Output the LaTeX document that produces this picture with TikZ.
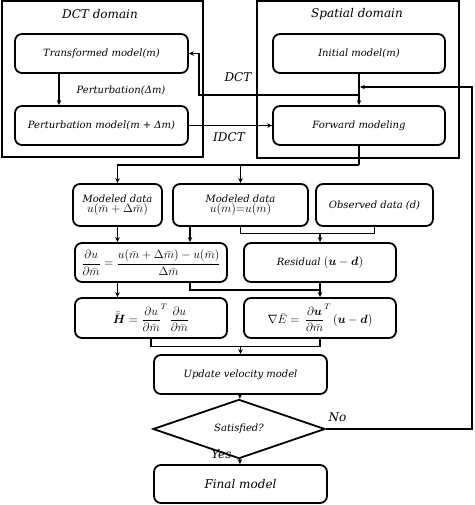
\documentclass[tikz,border=0pt]{standalone}
\usepackage{amsmath,amssymb}
\usepackage{fontspec}
\setmainfont{DejaVu Serif}
\usetikzlibrary{shapes.geometric,arrows.meta}
\newcommand\mymath[1]{{\fontsize{11.5}{13}\selectfont$#1$}}
\begin{document}
\begin{tikzpicture}[x=1pt,y=-1pt,
  box/.style={draw,line width=1.8pt,rounded corners=7pt,align=center,inner sep=1pt,font=\fontsize{10}{12}\selectfont\itshape},
  mbox/.style={box,font=\fontsize{11.5}{13}\selectfont},
  dom/.style={draw,line width=2pt},
  conn/.style={line width=1.6pt},
  arr/.style={conn,-{Stealth[length=5pt,width=4.5pt]}},
  lbl/.style={font=\fontsize{10}{12}\selectfont\itshape},
  big/.style={font=\fontsize{12}{14}\selectfont\itshape}]
\useasboundingbox (0,0) rectangle (474,505);
% domain boxes
\draw[dom] (2,1) rectangle (203,157);
\draw[dom] (257,1) rectangle (459,158);
\node[big] (tdct) at (100,14) {DCT domain};
\node[big] (tsp) at (357,14) {Spatial domain};
% nodes
\node[box,minimum width=173pt,minimum height=39pt] (trans) at (101.5,53.5) {Transformed model(m)};
\node[box,minimum width=173pt,minimum height=39pt] (pert) at (101.5,125.5) {Perturbation model(m + Δm)};
\node[box,minimum width=172pt,minimum height=39pt] (init) at (359,53.5) {Initial model(m)};
\node[box,minimum width=172pt,minimum height=39pt] (fwd) at (359,125.5) {Forward modeling};
\node[box,minimum width=89pt,minimum height=42pt] (md1) at (117.5,205) {Modeled data\\[-2pt]\mymath{u(\bar{m}+\Delta\bar{m})}};
\node[box,minimum width=135pt,minimum height=42pt] (md2) at (240.5,205) {Modeled data\\[-2pt]\mymath{u(m){=}u(m)}};
\node[box,minimum width=117pt,minimum height=42pt] (obs) at (374.5,205) {Observed data (d)};
\node[mbox,minimum width=152pt,minimum height=39pt] (deriv) at (151,262.5) {$\dfrac{\partial u}{\partial\bar{m}}=\dfrac{u(\bar{m}+\Delta\bar{m})-u(\bar{m})}{\Delta\bar{m}}$};
\node[box,minimum width=152pt,minimum height=39pt] (res) at (320,262.5) {Residual \mymath{(\boldsymbol{u}-\boldsymbol{d})}};
\node[mbox,minimum width=152pt,minimum height=40pt] (H) at (151,318) {$\bar{\bar{\boldsymbol{H}}}=\dfrac{\partial u}{\partial\bar{m}}^{T}\,\dfrac{\partial u}{\partial\bar{m}}$};
\node[mbox,minimum width=152pt,minimum height=40pt] (grad) at (320,318) {$\nabla\bar{E}=\,\dfrac{\partial \boldsymbol{u}}{\partial\bar{m}}^{T}\,(\boldsymbol{u}-\boldsymbol{d})$};
\node[box,minimum width=173pt,minimum height=39pt] (upd) at (240.5,374.5) {Update velocity model};
\node[draw,diamond,line width=1.8pt,minimum width=172pt,minimum height=36pt,inner sep=0pt,font=\fontsize{10}{12}\selectfont\itshape] (sat) at (239,429) {Satisfied?};
\node[box,minimum width=173pt,minimum height=38pt,font=\fontsize{12}{14}\selectfont\itshape] (final) at (240.5,484) {Final model};
% labels
\node[lbl] (lpert) at (121,90) {Perturbation(Δm)};
\node[big] (ldct) at (238,77) {DCT};
\node[big] (lidct) at (229,137) {IDCT};
\node[big,anchor=west] (lno) at (325,417) {No};
\node[big,anchor=east] (lyes) at (235,454) {Yes};
% routing coordinates
\coordinate (x59) at (59,0);
\coordinate (dctj) at (359,95);
\coordinate (dctc) at (199,95);
\coordinate (fbc) at (472,87);
\coordinate (fbj) at (360,87);
\coordinate (y165) at (0,165);
\coordinate (x190) at (190,0);
\coordinate (y233) at (0,233.5);
\coordinate (y290) at (0,290);
\coordinate (y346) at (0,346.5);
% connectors
\draw[arr] (trans.south -| x59) -- (pert.north -| x59);
\draw[arr] (init) -- (fwd);
\draw[arr] (dctj) -- (dctc) |- (trans.east);
\draw[arr] (pert) -- (fwd);
\draw[arr] (sat.east) -- (fbc |- sat.east) -- (fbc) -- (fbj);
\draw[conn] (fwd.south) -- (fwd.south |- y165);
\draw[arr] (fwd.south |- y165) -| (md1.north);
\draw[arr] (md2.north |- y165) -- (md2.north);
\draw[arr] (md1.south) -- (deriv.north -| md1.south);
\draw[arr] (md2.south -| x190) -- (deriv.north -| x190);
\draw[conn] (md2.south) |- (obs.south |- y233) -- (obs.south);
\draw[arr] (res.north |- y233) -- (res.north);
\draw[conn] (deriv.south -| x190) |- (res.south |- y290);
\draw[arr] (res.south) -- (grad.north);
\draw[arr] (deriv.south -| md1.south) -- (H.north -| md1.south);
\draw[conn] (H.south) |- (grad.south |- y346) -- (grad.south);
\draw[arr] (upd.north |- y346) -- (upd.north);
\draw[arr] (upd) -- (sat);
\draw[arr] (sat) -- (final);
\end{tikzpicture}
\end{document}
